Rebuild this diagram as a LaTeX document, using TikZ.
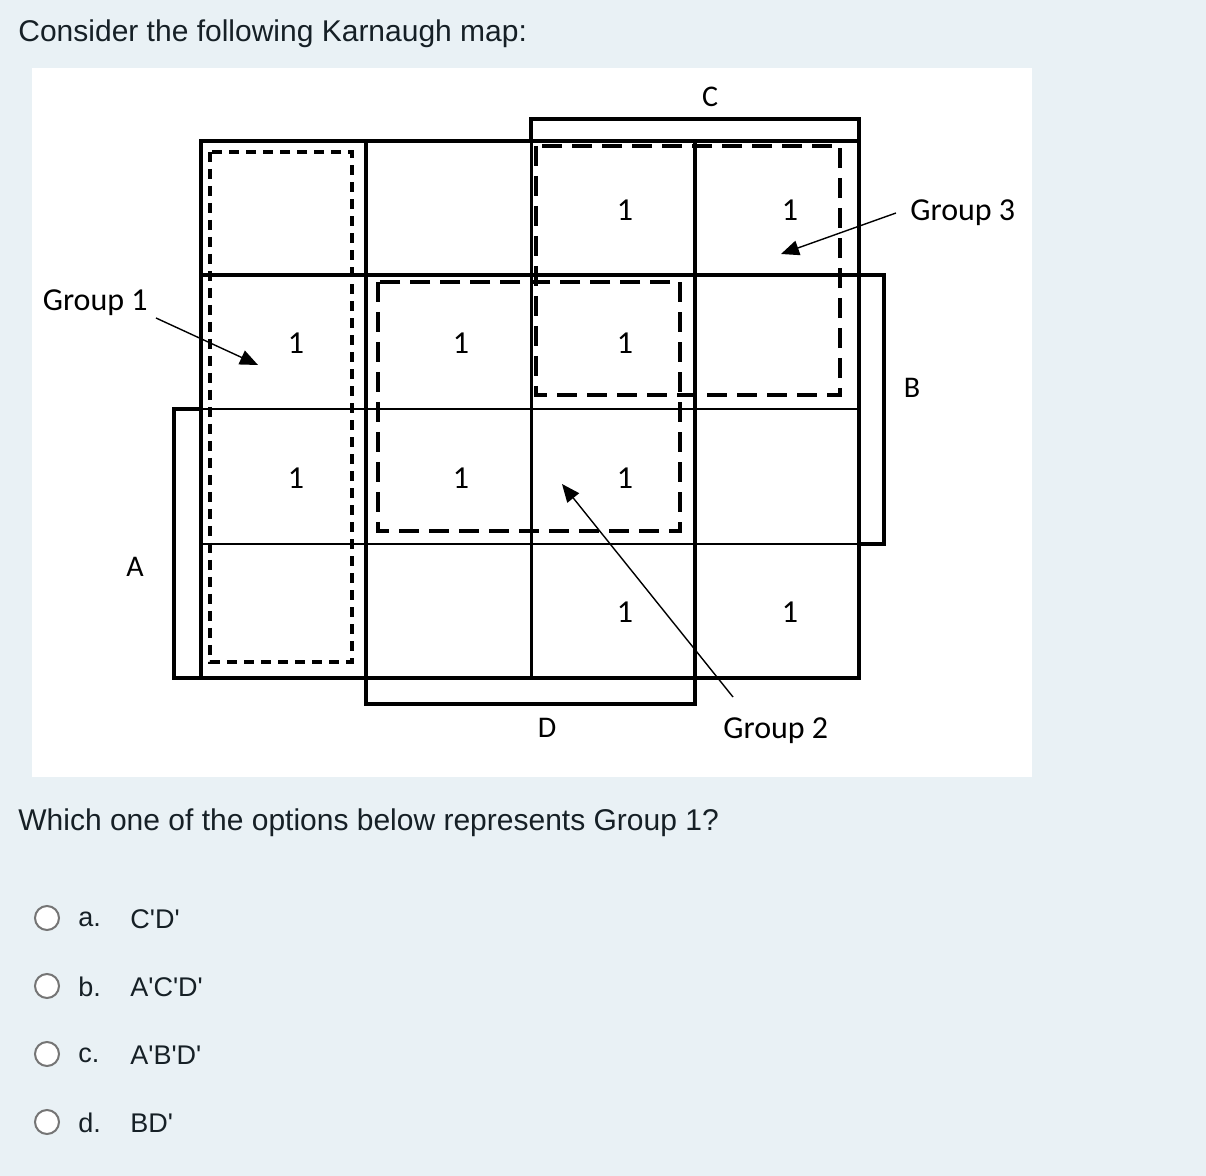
\documentclass[tikz,border=0pt]{standalone}
\usepackage{fontspec}
\setmainfont{Liberation Sans}
\newfontfamily\mapfont{Carlito}
\usetikzlibrary{arrows.meta, positioning}
\definecolor{pagebg}{RGB}{233,241,245}
\definecolor{radiogray}{RGB}{117,117,117}
\definecolor{inkdark}{RGB}{22,32,38}
\newcommand{\prm}{\textquotesingle}
\tikzset{
x=0.5pt, y=-0.5pt, % one unit is one pixel of the page
thickline/.style={line width=2pt}, % outer border and half lines
thinline/.style={line width=1.3pt}, % plain cell lines
bracket/.style={line width=1.6pt}, % variable brackets
shortdash/.style={line width=1.6pt, dash pattern=on 5pt off 3.5pt}, % group 1
longdash/.style={line width=1.7pt, dash pattern=on 10pt off 5pt}, % groups 2 and 3
cellone/.style={font=\mapfont\fontsize{16}{18}\selectfont},
varlabel/.style={font=\mapfont\fontsize{15}{17}\selectfont},
grouplabel/.style={font=\mapfont\fontsize{16}{18}\selectfont, inner sep=1pt},
pointer/.style={line width=0.7pt, -{Triangle[length=9pt,width=7.5pt]}},
radio/.style={circle, draw=radiogray, line width=1pt, fill=white, minimum size=12pt, inner sep=0pt},
pagetext/.style={font=\fontsize{15}{18}\selectfont, text=inkdark, anchor=west, inner sep=0pt},
}
\begin{document}
\begin{tikzpicture}
  % page and white panel
  \fill[pagebg] (0,0) rectangle (1206,1176);
  \fill[white] (32,68) rectangle (1032,777);
  \node[pagetext] (title) at (18,34) {Consider the following Karnaugh map:};

  % brackets of the variables
  \draw[bracket] (531,119) rectangle (859,141);
  \draw[bracket] (859,275) rectangle (884,544);
  \draw[bracket] (174,409) rectangle (201,678);
  \draw[bracket] (366,678) rectangle (695,704);
  \node[varlabel] (varC) at (710,97) {C};
  \node[varlabel] (varB) at (912,388) {B};
  \node[varlabel] (varA) at (135,567) {A};
  \node[varlabel] (varD) at (547,728) {D};

  % grid
  \draw[thinline] (201,409) -- (859,409);
  \draw[thinline] (201,544) -- (859,544);
  \draw[line width=1.5pt] (531,141) -- (531,678);
  \draw[line width=1.7pt] (366,141) -- (366,678);
  \draw[thickline] (695,141) -- (695,678);
  \draw[thickline] (201,275) -- (859,275);
  \draw[thickline] (201,141) rectangle (859,678);

  % groups
  \draw[shortdash] (210,152) rectangle (352,662);
  \draw[longdash] (378,282) rectangle (680,531);
  \draw[longdash] (536,146) rectangle (840,395);

  % ones
  \foreach \r/\c/\px/\py in {1/3/625/210, 1/4/790/210,
      2/1/296/343, 2/2/461/343, 2/3/625/343,
      3/1/296/478, 3/2/461/478, 3/3/625/478,
      4/3/625/612, 4/4/790/612}
    \node[cellone] (one\r\c) at (\px,\py) {1};

  % group labels and pointers
  \node[grouplabel, anchor=south east] (grp1) at (150,318) {Group 1};
  \node[grouplabel, anchor=west] (grp3) at (908,213) {Group 3};
  \node[grouplabel, anchor=north west] (grp2) at (721,715) {Group 2};
  \coordinate (tip1) at (258,365);
  \coordinate (tip3) at (781,254);
  \coordinate (tip2) at (562,484);
  \draw[pointer] ([xshift=3pt]grp1.south east) -- (tip1);
  \draw[pointer] ([xshift=-6pt]grp3.west) -- (tip3);
  \draw[pointer] ([xshift=6pt,yshift=9pt]grp2.north west) -- (tip2);

  % question and options
  \node[pagetext] (question) at (18,823) {Which one of the options below represents Group 1?};
  \foreach \k/\ltr/\ans/\py in {a/a./C\prm D\prm/918, b/b./A\prm C\prm D\prm/986,
      c/c./A\prm B\prm D\prm/1054, d/d./BD\prm/1122} {
    \node[radio] (radio\k) at (47,\py) {};
    \node[pagetext, font=\fontsize{13.5}{16}\selectfont] (letter\k) at (78,\py+1) {\ltr};
    \node[pagetext, font=\fontsize{13.5}{16}\selectfont] (answer\k) at (130,\py+1) {\ans};
  }
\end{tikzpicture}
\end{document}
